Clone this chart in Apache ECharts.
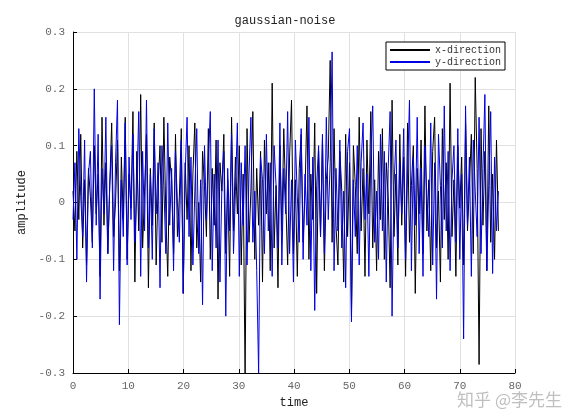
<!DOCTYPE html>
<html>
<head>
<meta charset="utf-8">
<script src="https://cdn.jsdelivr.net/npm/echarts@6/dist/echarts.min.js"></script>
<style>html,body{margin:0;padding:0;background:#fff}#main{width:570px;height:420px}</style>
</head>
<body>
<div id="main"></div>
<script>
// sample step along time axis
var step = 0.35;
var xDir = [
  .02,-.05,.09,-.03,.12,-.08,.04,-.11,.06,.01,
  -.07,.10,-.02,.05,-.13,.15,-.04,.07,-.09,.03,
  .14,-.06,.00,.11,-.12,.08,-.03,.15,-.10,.05,
  -.01,.16,-.14,.09,-.05,.19,-.08,.02,.12,-.15,
  .06,-.04,.14,-.11,.03,.10,-.07,.15,-.02,-.13,
  .08,.04,-.09,.12,-.06,.01,.13,-.16,.07,-.03,
  .10,-.12,.05,.14,-.08,.00,-.14,.09,.03,-.06,
  .13,-.10,.06,-.04,.11,-.17,.07,.02,.12,-.09,
  .04,-.13,.15,-.05,.08,-.02,.10,-.11,.05,-.31,
  .13,-.07,.02,.16,-.10,.06,-.04,.09,-.14,.11,
  -.02,.07,-.12,.21,-.08,.03,-.15,.10,-.05,.13,
  .01,-.11,.08,.18,-.09,.04,-.13,.06,.12,-.07,
  .02,.17,-.10,.05,-.03,.14,-.16,.09,-.06,.11,
  -.12,.04,.08,.25,-.07,.13,-.04,-.11,.09,.02,
  -.14,.12,-.06,.07,-.20,.10,.03,-.09,.15,-.05,
  .06,-.13,.11,-.02,.16,-.08,.04,-.12,.09,-.03,
  .13,-.10,.07,.01,-.15,.18,-.06,.05,-.11,.12,
  -.04,.08,-.13,.14,-.07,.03,.10,-.16,.06,-.02,
  .11,-.09,.17,-.05,.04,-.12,.09,.15,-.08,.02,
  -.14,.13,-.03,.07,-.10,.21,-.06,.04,-.13,.10,
  -.01,.08,-.11,.14,-.05,.03,.12,-.09,.22,.06,
  -.285,.13,-.04,.09,-.12,.17,-.07,.05,-.10,.11,
  -.05
];
var yDir = [
  -.03,.07,-.10,.13,.01,-.06,.11,-.14,.05,.09,
  -.08,.20,-.04,.12,-.17,.06,-.02,.15,-.09,.03,
  .10,-.12,.07,.18,-.215,.04,-.06,.14,-.11,.08,
  -.03,.12,-.07,.02,.16,-.13,.09,-.05,.18,-.08,
  .05,-.10,.13,-.02,.07,-.15,.10,.03,-.09,.14,
  -.04,.06,-.12,.09,.00,-.07,.11,-.16,.05,.15,
  -.06,.08,-.11,.02,.13,-.09,.04,-.18,.10,-.03,
  .07,.16,-.12,.05,-.08,.11,-.14,.03,.09,-.20,
  .06,-.05,.12,-.09,.02,.14,-.13,.07,-.04,.10,
  -.11,.05,.15,-.07,.02,-.12,-.30,.08,.04,-.09,
  .12,-.05,.07,-.13,.10,.03,-.08,.14,-.11,.06,
  -.02,.16,-.09,.04,-.14,.11,.01,-.07,.13,-.10,
  .05,-.04,.15,-.12,.08,-.19,.03,.10,-.06,.12,
  -.09,.15,-.03,.07,.265,-.12,.06,-.05,.11,-.08,
  .02,-.15,.09,.13,-.21,.04,-.06,.10,-.11,.07,
  .14,-.03,.05,-.13,.08,.17,-.07,.02,-.10,.12,
  -.05,.09,-.14,.06,.16,-.20,.03,.11,-.08,.07,
  -.02,.13,-.10,.05,.18,-.12,.08,-.04,.15,-.09,
  .06,-.13,.10,.01,-.06,.14,-.11,.07,-.17,.12,
  .03,-.08,.17,-.05,.09,-.12,.04,.10,-.07,.13,
  -.10,.05,-.24,.17,-.04,.08,-.13,.11,.02,-.06,
  .15,-.09,.06,.19,-.12,.03,.16,-.125,.08,-.05,
  .02
];

function pairs(arr) {
  return arr.map(function (v, i) { return [+(i * step).toFixed(2), v]; });
}

var font = 'Liberation Mono';
var chart = echarts.init(document.getElementById('main'));
chart.setOption({
  animation: false,
  title: {
    text: 'gaussian-noise', left: 'center', top: 10,
    textStyle: { fontFamily: font, fontSize: 12, fontWeight: 'normal', color: '#222' }
  },
  legend: {
    right: 65, top: 42, orient: 'vertical', itemGap: 2, itemWidth: 40, itemHeight: 2,
    backgroundColor: '#fff', borderColor: '#000', borderWidth: 1, padding: [3, 4],
    icon: 'rect',
    textStyle: { fontFamily: font, fontSize: 10, color: '#333' },
    data: ['x-direction', 'y-direction']
  },
  grid: { left: 73, right: 55, top: 32, bottom: 47 },
  xAxis: {
    type: 'value', min: 0, max: 80, interval: 10,
    name: 'time', nameLocation: 'middle', nameGap: 22,
    nameTextStyle: { fontFamily: font, fontSize: 12, color: '#222' },
    axisLine: { onZero: false, lineStyle: { color: '#000' } },
    axisTick: { inside: true, length: 4, lineStyle: { color: '#000' } },
    axisLabel: { fontFamily: font, fontSize: 11, color: '#666' },
    splitLine: { show: true, lineStyle: { color: '#e0e0e0' } }
  },
  yAxis: {
    type: 'value', min: -0.3, max: 0.3, interval: 0.1,
    name: 'amplitude', nameLocation: 'middle', nameGap: 40,
    nameTextStyle: { fontFamily: font, fontSize: 12, color: '#222' },
    axisLine: { show: true, lineStyle: { color: '#000' } },
    axisTick: { show: true, inside: true, length: 4, lineStyle: { color: '#000' } },
    axisLabel: {
      fontFamily: font, fontSize: 11, color: '#666',
      formatter: function (v) { return v === 0 ? '0' : v.toFixed(1); }
    },
    splitLine: { show: true, lineStyle: { color: '#e0e0e0' } }
  },
  series: [
    { name: 'x-direction', type: 'line', data: pairs(xDir), showSymbol: false, clip: true,
      lineStyle: { width: 1, color: '#000' }, itemStyle: { color: '#000' } },
    { name: 'y-direction', type: 'line', data: pairs(yDir), showSymbol: false, clip: true,
      lineStyle: { width: 1, color: '#0000e0' }, itemStyle: { color: '#0000e0' } }
  ],
  graphic: [{
    type: 'text', right: 8, bottom: 12,
    style: { text: '知乎 @李先生', fill: 'rgba(180,180,180,0.85)', font: '17px "Noto Sans CJK SC"' }
  }]
});
</script>
</body>
</html>
